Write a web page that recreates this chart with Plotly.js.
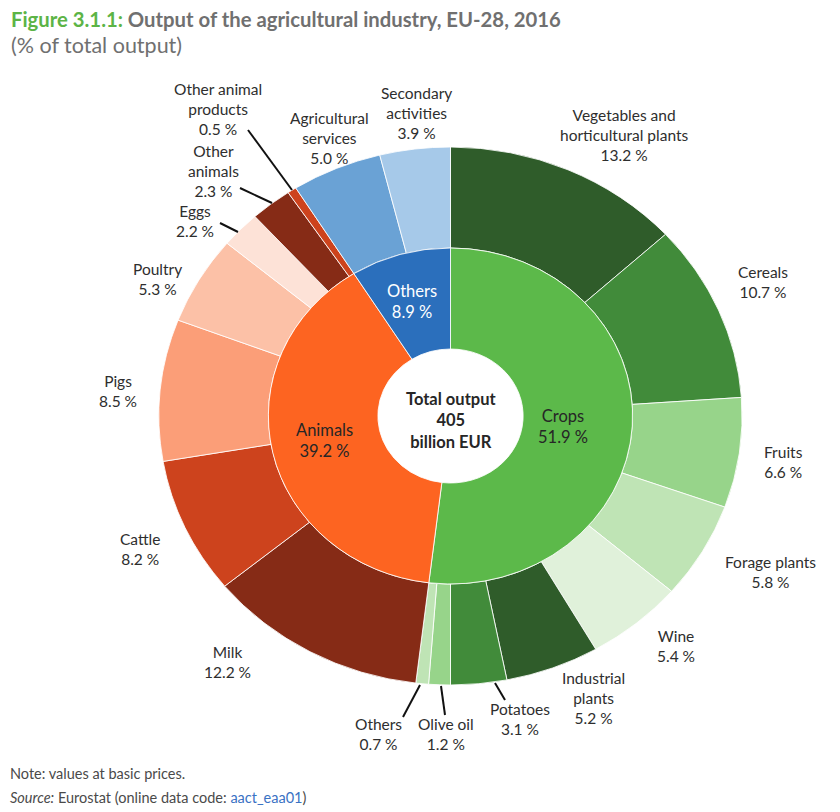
<!DOCTYPE html>
<html>
<head>
<meta charset="utf-8">
<script src="https://cdn.plot.ly/plotly-3.0.1.min.js"></script>
<style>
  html, body { margin: 0; padding: 0; background: #ffffff; }
  #chart { width: 840px; height: 812px; }
</style>
</head>
<body>
<div id="chart"></div>
<script>
// Inner ring: main groups of agricultural output (% of total)
const groupNames = ['Crops', 'Animals', 'Others'];
const groupShares = [51.9, 39.2, 8.9];

// Outer ring: individual products, clockwise from 12 o'clock
const productNames = [
  'Vegetables and<br>horticultural plants', 'Cereals', 'Fruits', 'Forage plants', 'Wine',
  'Industrial<br>plants', 'Potatoes', 'Olive oil', 'Others',
  'Milk', 'Cattle', 'Pigs', 'Poultry', 'Eggs', 'Other<br>animals', 'Other animal<br>products',
  'Agricultural<br>services', 'Secondary<br>activities'
];
const productShares = [13.2, 10.7, 6.6, 5.8, 5.4, 5.2, 3.1, 1.2, 0.7,
                       12.2, 8.2, 8.5, 5.3, 2.2, 2.3, 0.5,
                       5.0, 3.9];

const totalOutput = 405; // billion EUR

// ---- styling ----
const W = 840, H = 812;
const groupColors = ['#5cb94a', '#fd6421', '#2b6fbc'];
const productColors = [
  '#2f5c2a', '#418b3a', '#97d48a', '#bfe4b5', '#e0f1da',
  '#2f5c2a', '#418b3a', '#97d48a', '#bfe4b5',
  '#862b16', '#cd431d', '#fb9e78', '#fcc1a7', '#fde2d7', '#862b16', '#cd431d',
  '#6aa2d5', '#a6c9e9'
];

// pixel -> paper helpers
const px = x => x / W;
const py = y => 1 - y / H;

const cx = 450.5, cy = 416;       // centre of the rings
const rOuter = 269, rMid = 168, rHole = 67;
const stretchX = 1.084;           // horizontal stretch of the rings

function domainFor(r) {
  return { x: [px(cx - r), px(cx + r)], y: [py(cy + r), py(cy - r)] };
}

const fmt = v => v.toFixed(1) + ' %';

const outerRing = {
  type: 'pie',
  values: productShares,
  labels: productNames.map((n, i) => n + ' #' + i),
  sort: false,
  direction: 'clockwise',
  rotation: 0,
  hole: rMid / rOuter,
  domain: domainFor(rOuter),
  textinfo: 'none',
  hoverinfo: 'skip',
  marker: { colors: productColors, line: { color: '#ffffff', width: 0.8 } }
};

const innerRing = {
  type: 'pie',
  values: groupShares,
  labels: groupNames.map((n, i) => n + ' ~' + i),
  sort: false,
  direction: 'clockwise',
  rotation: 0,
  hole: rHole / rMid,
  domain: domainFor(rMid),
  textinfo: 'none',
  hoverinfo: 'skip',
  marker: { colors: groupColors, line: { color: '#ffffff', width: 0.8 } }
};

// label placement for the outer-ring labels (pixel centres) and leader lines
const productLabelPos = [
  [624, 135], [763, 282], [783, 462], [770, 572], [676, 646],
  [593, 698], [520, 719], [446, 734], [378, 734],
  [227, 662], [140, 549], [118, 391], [157, 279], [195, 221], [213, 171], [218, 109],
  [329, 138], [416, 113]
];
const leaderLines = {
  6:  [495, 683, 505, 700],
  7:  [441, 686, 445, 715],
  8:  [420, 685, 403, 717],
  13: [220, 223, 238, 232],
  14: [240, 188, 272, 203],
  15: [248, 130, 292, 190]
};
const groupLabelPos = [[563, 426], [324, 440], [412, 301]];
const groupTextColors = ['#262626', '#262626', '#ffffff'];

const family = 'Lato, "Open Sans", sans-serif';
const labelFont = { family: family, size: 15.5, color: '#2e2e2e' };

const annotations = [];
productNames.forEach((n, i) => {
  const p = productLabelPos[i];
  annotations.push({
    xref: 'paper', yref: 'paper', x: px(p[0]), y: py(p[1]),
    xanchor: 'center', yanchor: 'middle', align: 'center',
    text: n + '<br>' + fmt(productShares[i]),
    showarrow: false, font: labelFont
  });
});
groupNames.forEach((n, i) => {
  const p = groupLabelPos[i];
  annotations.push({
    xref: 'paper', yref: 'paper', x: px(p[0]), y: py(p[1]),
    xanchor: 'center', yanchor: 'middle', align: 'center',
    text: n + '<br>' + fmt(groupShares[i]),
    showarrow: false,
    font: { family: family, size: 16.5, color: groupTextColors[i] }
  });
});
// centre of the doughnut
annotations.push({
  xref: 'paper', yref: 'paper', x: px(451), y: py(420),
  xanchor: 'center', yanchor: 'middle', align: 'center',
  text: '<b>Total output<br>' + totalOutput + '<br>billion EUR</b>',
  showarrow: false,
  font: { family: family, size: 16.5, color: '#262626' }
});
// heading
annotations.push({
  xref: 'paper', yref: 'paper', x: px(9), y: py(19),
  xanchor: 'left', yanchor: 'middle', align: 'left',
  text: '<b><span style="color:#5cb446">Figure 3.1.1:</span> Output of the agricultural industry, EU-28, 2016</b>',
  showarrow: false,
  font: { family: family, size: 20.3, color: '#707070' }
});
annotations.push({
  xref: 'paper', yref: 'paper', x: px(9), y: py(45),
  xanchor: 'left', yanchor: 'middle', align: 'left',
  text: '(% of total output)',
  showarrow: false,
  font: { family: family, size: 21.5, color: '#707070' }
});
// notes
annotations.push({
  xref: 'paper', yref: 'paper', x: px(8), y: py(773),
  xanchor: 'left', yanchor: 'middle', align: 'left',
  text: 'Note: values at basic prices.',
  showarrow: false,
  font: { family: family, size: 14.5, color: '#4a4a4a' }
});
annotations.push({
  xref: 'paper', yref: 'paper', x: px(8), y: py(797),
  xanchor: 'left', yanchor: 'middle', align: 'left',
  text: '<i>Source:</i> Eurostat (online data code: <span style="color:#3a72c4">aact_eaa01</span>)',
  showarrow: false,
  font: { family: family, size: 14.5, color: '#4a4a4a' }
});

const shapes = Object.keys(leaderLines).map(k => {
  const l = leaderLines[k];
  return {
    type: 'line', xref: 'paper', yref: 'paper',
    x0: px(l[0]), y0: py(l[1]), x1: px(l[2]), y1: py(l[3]),
    line: { color: '#111111', width: 2 }
  };
});

const layout = {
  width: W, height: H,
  margin: { l: 0, r: 0, t: 0, b: 0 },
  paper_bgcolor: '#ffffff',
  showlegend: false,
  annotations: annotations,
  shapes: shapes
};

Plotly.newPlot('chart', [outerRing, innerRing], layout, { displayModeBar: false, staticPlot: true })
  .then(gd => {
    // widen the rings slightly so they form the printed ellipse
    const layer = gd.querySelector('.pielayer');
    if (layer) {
      layer.setAttribute('transform',
        'translate(' + cx + ',0) scale(' + stretchX + ',1) translate(' + (-cx) + ',0)');
    }
  });
</script>
</body>
</html>
